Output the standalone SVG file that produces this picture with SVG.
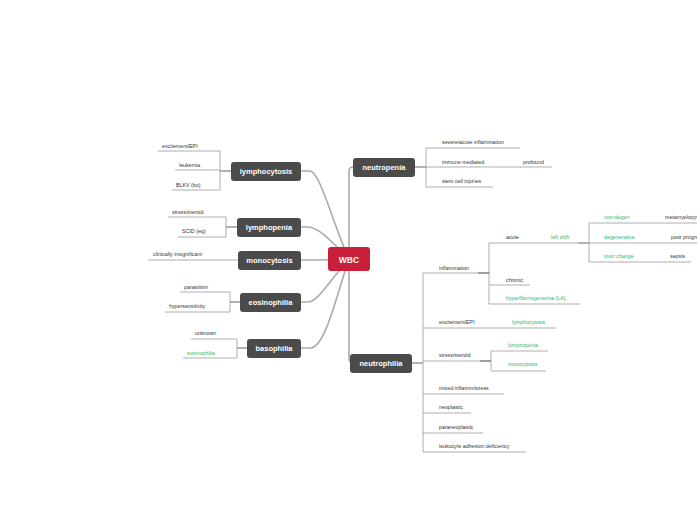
<svg xmlns="http://www.w3.org/2000/svg" width="697" height="520" viewBox="0 0 697 520">
<style>
.n{fill:#4b4b4b}
.nt{fill:#fff;font:bold 7.5px "Liberation Sans",Arial,sans-serif;text-anchor:middle}
.t{fill:#333;font:5.3px "Liberation Sans",Arial,sans-serif}
.g{fill:#2bb86b}
.c{fill:none;stroke:#aaa;stroke-width:1.6}
.l{fill:none;stroke:#999;stroke-width:0.8}
.b{fill:none;stroke:#666;stroke-width:1}
</style>
<rect width="697" height="520" fill="#fff"/>
<g id="connectors">
<path class="c" d="M349 259 C335 230 320 171 310 171 H301"/>
<path class="c" d="M349 259 C330 240 318 227 308 227 H301"/>
<path class="c" d="M349 259 C330 260 318 260 301 260"/>
<path class="c" d="M349 259 C330 280 318 302 308 302 H301"/>
<path class="c" d="M349 259 C335 300 325 348 310 348 H301"/>
<path class="c" d="M349 259 V172 Q349 167 353 167"/>
<path class="c" d="M349 259 V358 Q349 363 353 363"/>
<!-- left leaves -->
<path class="b" d="M220 171 H231"/>
<path class="l" d="M158 151 H220 V190 H172 M175 170 H220"/>
<path class="b" d="M226 227 H237"/>
<path class="l" d="M168 217 H226 V237 H178"/>
<path class="l" d="M148 260 H238"/>
<path class="b" d="M230 302 H240"/>
<path class="l" d="M180 292 H230 V312 H165"/>
<path class="b" d="M237 348 H247"/>
<path class="l" d="M191 339 H237 V358 H183"/>
<!-- neutropenia -->
<path class="b" d="M415 167 H426"/>
<path class="l" d="M520 148 H426 V187 H493 M426 167 H552"/>
<!-- neutrophilia -->
<path class="b" d="M412 363 H423"/>
<path class="l" d="M423 273 V452 H526 M423 273 H490 M423 328 H556 M423 361 H491 M423 394 H504 M423 413 H471 M423 433 H483"/>
<path class="b" d="M478 273 H489"/>
<path class="l" d="M489 243 V304 H580 M489 243 H578 M489 285 H530"/>
<path class="b" d="M578 243 H589"/>
<path class="l" d="M589 223 V262 H691 M589 223 H697 M589 243 H697"/>
<path class="b" d="M480 361 H491"/>
<path class="l" d="M548 351 H491 V371 H546"/>
</g>
<g id="wbc"><rect x="328" y="247" width="42" height="24" rx="3" fill="#c8203a"/><text class="nt" x="349" y="262.5" style="font-size:8.5px">WBC</text></g>
<g id="neutropenia"><rect class="n" x="353" y="158" width="62" height="19" rx="3"/><text class="nt" x="384" y="170">neutropenia</text></g>
<g id="neutrophilia"><rect class="n" x="350" y="354" width="62" height="19" rx="3"/><text class="nt" x="381" y="366">neutrophilia</text></g>
<g id="lymphocytosis"><rect class="n" x="231" y="162" width="70" height="19" rx="3"/><text class="nt" x="266" y="174">lymphocytosis</text></g>
<g id="lymphopenia"><rect class="n" x="237" y="218" width="64" height="19" rx="3"/><text class="nt" x="269" y="230">lymphopenia</text></g>
<g id="monocytosis"><rect class="n" x="238" y="251" width="63" height="19" rx="3"/><text class="nt" x="269.5" y="263">monocytosis</text></g>
<g id="eosinophilia"><rect class="n" x="240" y="293" width="61" height="19" rx="3"/><text class="nt" x="270.5" y="305">eosinophilia</text></g>
<g id="basophilia"><rect class="n" x="247" y="339" width="54" height="19" rx="3"/><text class="nt" x="274" y="351">basophilia</text></g>
<g id="leaves">
<text class="t" x="162" y="148">excitement/EPI</text>
<text class="t" x="179" y="167">leukemia</text>
<text class="t" x="176" y="187">BLKV (bo)</text>
<text class="t" x="172" y="214">stress/steroid</text>
<text class="t" x="182" y="233">SCID (eq)</text>
<text class="t" x="153" y="256">clinically insignificant</text>
<text class="t" x="184" y="289">parasitism</text>
<text class="t" x="169" y="308">hypersensitivity</text>
<text class="t" x="195" y="335">unknown</text>
<text class="t g" x="187" y="355">eosinophilia</text>
<text class="t" x="442" y="144">severe/acute inflammation</text>
<text class="t" x="442" y="164">immune mediated</text>
<text class="t" x="523" y="164">profound</text>
<text class="t" x="442" y="183">stem cell injuries</text>
<text class="t" x="439" y="270">inflammation</text>
<text class="t" x="506" y="239">acute</text>
<text class="t g" x="551" y="239">left shift</text>
<text class="t g" x="604" y="219">non-degen</text>
<text class="t" x="665" y="219">metamyelocytes</text>
<text class="t g" x="604" y="239">degenerative</text>
<text class="t" x="671" y="239">poor prognosis</text>
<text class="t g" x="604" y="258">toxic change</text>
<text class="t" x="670" y="258">sepsis</text>
<text class="t" x="506" y="282">chronic</text>
<text class="t g" x="506" y="300">hyperfibrinogenemia (LA)</text>
<text class="t" x="439" y="324">excitement/EPI</text>
<text class="t g" x="512" y="324">lymphocytosis</text>
<text class="t" x="439" y="357">stress/steroid</text>
<text class="t g" x="508" y="347">lymphopenia</text>
<text class="t g" x="508" y="366">monocytosis</text>
<text class="t" x="439" y="390">mixed inflamm/stress</text>
<text class="t" x="439" y="409">neoplastic</text>
<text class="t" x="439" y="429">paraneoplastic</text>
<text class="t" x="439" y="448">leukocyte adhesion deficiency</text>
</g>
</svg>
